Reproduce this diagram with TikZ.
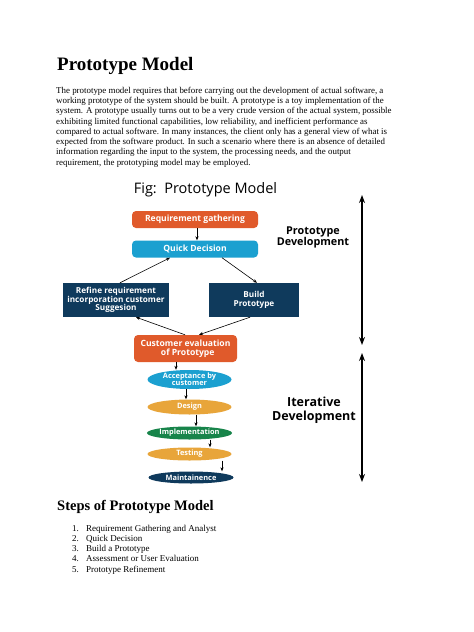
\documentclass[tikz,border=0pt]{standalone}
\usepackage{fontspec}
\setmainfont{Liberation Serif}
\newfontfamily\diagfont{Open Sans}
\usetikzlibrary{arrows.meta,shapes.geometric}
\definecolor{corange}{HTML}{E05A2B}
\definecolor{ccyan}{HTML}{1BA0D0}
\definecolor{cnavy}{HTML}{0F3A5C}
\definecolor{cgold}{HTML}{E8A53A}
\definecolor{cgreen}{HTML}{17844A}
\begin{document}
\begin{tikzpicture}[x=1pt,y=-1pt,
  rbox/.style={rounded corners=4pt, inner sep=0pt, text=white, font=\diagfont\bfseries\fontsize{8.6}{9}\selectfont, align=center},
  sbox/.style={inner sep=0pt, text=white, font=\diagfont\bfseries\fontsize{8.2}{8.4}\selectfont, align=center},
  ell/.style={ellipse, inner sep=0pt, minimum width=84pt, text=white, font=\diagfont\bfseries\fontsize{7.4}{7.4}\selectfont, align=center},
  thin arrow/.style={-{Stealth[length=4pt,width=3.2pt]}, line width=0.6pt},
  big arrow/.style={{Stealth[length=8pt,width=6pt]}-{Stealth[length=8pt,width=6pt]}, line width=1.4pt},
  side/.style={font=\diagfont\bfseries, align=center, inner sep=0pt}
]
\useasboundingbox (0,0) rectangle (474,632);
\fill[white] (0,0) rectangle (474,632);

% title and paragraph
\node[anchor=base west, inner sep=0pt, font=\fontsize{19}{22}\selectfont\bfseries] (title) at (57,70) {Prototype Model};
\node[anchor=north west, inner sep=0pt, align=left, font=\fontsize{8.9}{10.25}\selectfont] (para) at (56,87) {The prototype model requires that before carrying out the development of actual software, a\\
working prototype of the system should be built. A prototype is a toy implementation of the\\
system. A prototype usually turns out to be a very crude version of the actual system, possible\\
exhibiting limited functional capabilities, low reliability, and inefficient performance as\\
compared to actual software. In many instances, the client only has a general view of what is\\
expected from the software product. In such a scenario where there is an absence of detailed\\
information regarding the input to the system, the processing needs, and the output\\
requirement, the prototyping model may be employed.};

% figure caption
\node[anchor=center, inner sep=0pt, font=\diagfont\fontsize{14.5}{16}\selectfont] (fig) at (205.5,190) {Fig:\ \ Prototype Model};

% boxes
\node[rbox, fill=corange, minimum width=126pt, minimum height=17pt] (req) at (195,219.5) {Requirement gathering};
\node[rbox, fill=ccyan, minimum width=126pt, minimum height=17pt] (quick) at (195,249) {Quick Decision};
\node[sbox, fill=cnavy, minimum width=106pt, minimum height=34pt] (refine) at (116,300) {Refine requirement\\incorporation customer\\Suggesion};
\node[sbox, fill=cnavy, minimum width=90pt, minimum height=34pt, font=\diagfont\bfseries\fontsize{8.2}{9}\selectfont] (build) at (254,300) {Build\\Prototype};
\node[rbox, fill=corange, minimum width=103pt, minimum height=27pt, font=\diagfont\bfseries\fontsize{8.6}{9}\selectfont] (cust) at (185.5,348.5) {Customer evaluation\\\ \ of Prototype};

% ellipses
\node[ell, fill=ccyan, minimum height=19pt] (acc) at (189.5,379.5) {Acceptance by\\customer};
\node[ell, fill=cgold, minimum height=15pt] (design) at (189.5,407) {Design};
\node[ell, fill=cgreen, minimum height=13pt] (impl) at (189.5,433) {Implementation};
\node[ell, fill=cgold, minimum height=13pt] (test) at (189.5,454) {Testing};
\node[ell, fill=cnavy, minimum height=12pt, minimum width=85pt] (maint) at (191,477.5) {Maintainence};

% connectors
\draw[thin arrow] (req.south -| 197,0) -- (quick.north -| 197,0);
\draw[thin arrow] (quick.south -| 222,0) -- (build.north -| 257,0);
\draw[thin arrow] (refine.north -| 120,0) -- (quick.south -| 170,0);
\draw[thin arrow] (cust.north -| 185,0) -- (refine.south -| 136,0);
\draw[thin arrow] (build.south -| 250,0) -- (cust.north -| 199,0);
\draw[thin arrow] (cust.south -| 176,0) -- (acc.north -| 176,0);
\draw[thin arrow] (acc.south -| 186,0) -- (design.north -| 186,0);
\draw[thin arrow] (design.south -| 196,0) -- (impl.north -| 196,0);
\draw[thin arrow] (impl.south -| 210,0) -- (test.north -| 210,0);
\draw[thin arrow] (test.south -| 222,0) -- (maint.north -| 222,0);

% side labels
\node[side, font=\diagfont\bfseries\fontsize{10.8}{11.5}\selectfont] (protodev) at (313,237.5) {Prototype\\Development};
\node[side, font=\diagfont\bfseries\fontsize{12.5}{14}\selectfont] (iterdev) at (314,410) {Iterative\\Development};

\coordinate (a1) at (362,195);
\coordinate (a2) at (362,345);
\coordinate (a3) at (362,353);
\coordinate (a4) at (362,482);
\draw[big arrow] (a1) -- (a2);
\draw[big arrow] (a3) -- (a4);

% steps
\node[anchor=base west, inner sep=0pt, font=\fontsize{14.5}{17}\selectfont\bfseries] (steps) at (57,510) {Steps of Prototype Model};
\node[anchor=base east, inner sep=0pt, font=\fontsize{9}{10}\selectfont] (n1) at (79,531) {1.};
\node[anchor=base east, inner sep=0pt, font=\fontsize{9}{10}\selectfont] (n2) at (79,541.3) {2.};
\node[anchor=base east, inner sep=0pt, font=\fontsize{9}{10}\selectfont] (n3) at (79,551.6) {3.};
\node[anchor=base east, inner sep=0pt, font=\fontsize{9}{10}\selectfont] (n4) at (79,561.9) {4.};
\node[anchor=base east, inner sep=0pt, font=\fontsize{9}{10}\selectfont] (n5) at (79,572.2) {5.};
\node[anchor=base west, inner sep=0pt, font=\fontsize{9}{10}\selectfont] (s1) at (86,531) {Requirement Gathering and Analyst};
\node[anchor=base west, inner sep=0pt, font=\fontsize{9}{10}\selectfont] (s2) at (86,541.3) {Quick Decision};
\node[anchor=base west, inner sep=0pt, font=\fontsize{9}{10}\selectfont] (s3) at (86,551.6) {Build a Prototype};
\node[anchor=base west, inner sep=0pt, font=\fontsize{9}{10}\selectfont] (s4) at (86,561.9) {Assessment or User Evaluation};
\node[anchor=base west, inner sep=0pt, font=\fontsize{9}{10}\selectfont] (s5) at (86,572.2) {Prototype Refinement};
\end{tikzpicture}
\end{document}
